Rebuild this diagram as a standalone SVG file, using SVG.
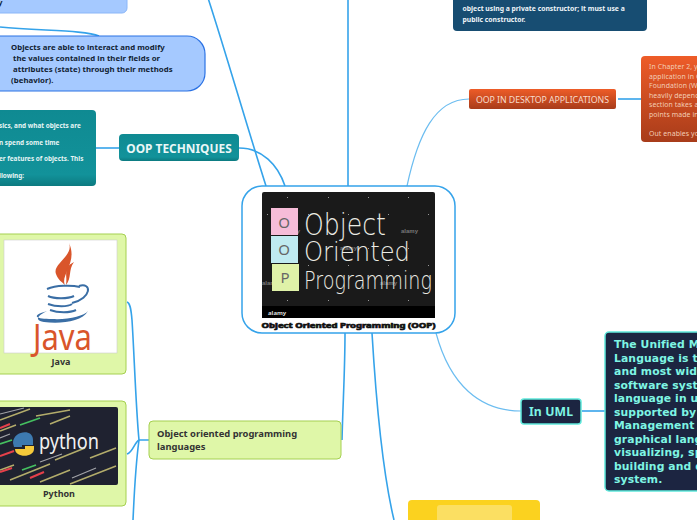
<svg xmlns="http://www.w3.org/2000/svg" width="697" height="520" viewBox="0 0 697 520">
<style>
text{font-family:"Noto Sans","Open Sans",sans-serif}
.c{fill:none;stroke:#35a3ea;stroke-width:1.6}
.t{fill:none;stroke:#6cbdf0;stroke-width:1.2}
.lb{font-size:7.8px;font-weight:700;fill:#123;letter-spacing:.05px}
.wh{font-size:6.4px;font-weight:700;fill:#e6f5f5}
.or{font-size:6.9px;fill:#f3cdb5;letter-spacing:.1px}
.um{font-size:10.8px;font-weight:700;fill:#7ff5e4;font-family:"DejaVu Sans",sans-serif;letter-spacing:.1px}
.ch{font-family:"DejaVu Sans",sans-serif;fill:#ecece4;font-weight:200}
.wm{font-size:6px;fill:#777;font-family:"Liberation Sans",sans-serif;font-weight:700}
.g{fill:#dff7a8;stroke:#a5d050;stroke-width:1}
</style>
<defs>
<linearGradient id="teal" x1="0" y1="0" x2="0" y2="1"><stop offset="0" stop-color="#0f8a92"/><stop offset=".85" stop-color="#12929a"/><stop offset="1" stop-color="#0c7a80"/></linearGradient>
<linearGradient id="org" x1="0" y1="0" x2="0" y2="1"><stop offset="0" stop-color="#ee5c28"/><stop offset="1" stop-color="#a83c1a"/></linearGradient>
</defs>
<rect width="697" height="520" fill="#fff"/>
<g id="connectors">
<path class="c" d="M208 -2C225 50 245 120 266 186"/>
<path class="c" d="M239 148C262 148 278 165 285 186"/>
<path class="c" d="M348 0V186"/>
<path class="t" d="M407 186C418 135 435 99 469 99"/>
<path class="c" d="M618 99H641"/>
<path class="c" d="M96 148H119"/>
<path class="c" d="M345 333C345 370 343 400 342 440"/>
<path class="c" d="M372 333C376 400 382 470 394 520"/>
<path class="t" d="M436 333C450 385 480 411 521 411"/>
<path class="c" d="M582 411H605"/>
<path class="c" d="M149 440H139C136 410 134 350 132 320C131 308 130 303 127 302"/>
<path class="c" d="M139 440C134 443 133 452 127 454"/>
<path class="c" d="M139 440C135 470 134 500 133 520"/>
<path class="c" d="M0 27C40 31 85 30 99 36" stroke-width="1.2"/>
</g>
<g id="node-objects-top"><path d="M-5 -5H127V8a5 5 0 0 1-5 5H-5Z" fill="#a5c9ff" stroke="#8ab6f8"/><text class="lb" x="-2" y="5">y</text></g>
<g id="node-objects"><rect x="-20" y="36" width="225" height="55" rx="18" fill="#a5c9ff" stroke="#2b72e4" stroke-width="1.2"/>
<text class="lb" x="11" y="50">Objects are able to interact and modify</text>
<text class="lb" x="13" y="61">the values contained in their fields or</text>
<text class="lb" x="13" y="72">attributes (state) through their methods</text>
<text class="lb" x="11" y="83">(behavior).</text></g>
<g id="node-techniques-detail"><rect x="-20" y="110" width="116" height="76" rx="4" fill="url(#teal)"/>
<text class="wh" x="-1" y="128">sics, and what objects are</text>
<text class="wh" x="-1" y="145">n spend some time</text>
<text class="wh" x="-1" y="161">er features of objects. This</text>
<text class="wh" x="-1" y="178">llowing:</text></g>
<g id="node-techniques"><rect x="119" y="134" width="120" height="27" rx="4" fill="url(#teal)"/>
<text x="179" y="153" text-anchor="middle" font-size="11.900" font-weight="700" fill="#eaf7f7">OOP TECHNIQUES</text></g>
<g id="node-center"><rect x="242" y="186" width="213" height="147" rx="20" fill="#fff" stroke="#35a3ea" stroke-width="1.5"/>
<rect x="262" y="192" width="173" height="126" rx="2" fill="#1a1a1a"/>
<rect x="262" y="306" width="173" height="12" fill="#000"/>
<path d="M287 197h1v1h-1zM328 197h1v1h-1zM368 197h1v1h-1zM408 197h1v1h-1zM267 214h1v1h-1zM308 214h1v1h-1zM348 214h1v1h-1zM388 214h1v1h-1zM428 214h1v1h-1zM287 248h1v1h-1zM328 248h1v1h-1zM368 248h1v1h-1zM408 248h1v1h-1zM308 265h1v1h-1zM348 265h1v1h-1zM388 265h1v1h-1zM428 265h1v1h-1zM287 300h1v1h-1zM328 300h1v1h-1zM368 300h1v1h-1zM408 300h1v1h-1z" fill="#999"/>
<text class="wm" x="283" y="233">alamy</text><text class="wm" x="340" y="250">alamy</text><text class="wm" x="401" y="233">alamy</text><text class="wm" x="262" y="285">alamy</text><text class="wm" x="380" y="285">alamy</text>
<rect x="271" y="208" width="27" height="27" fill="#f6bcd8"/><rect x="271" y="236" width="27" height="27" fill="#bfeaf0"/><rect x="272" y="264" width="27" height="27" fill="#dff2a8"/>
<text x="284" y="228" text-anchor="middle" font-size="15" fill="#666" font-family="Liberation Sans">O</text>
<text x="284" y="255" text-anchor="middle" font-size="15" fill="#666" font-family="Liberation Sans">O</text>
<text x="285" y="283" text-anchor="middle" font-size="15" fill="#666" font-family="Liberation Sans">P</text>
<text class="ch" x="304" y="235" font-size="30" textLength="82" lengthAdjust="spacingAndGlyphs">Object</text>
<text class="ch" x="304" y="261" font-size="27" textLength="106" lengthAdjust="spacingAndGlyphs">Oriented</text>
<text class="ch" x="304" y="289" font-size="24" textLength="128" lengthAdjust="spacingAndGlyphs">Programming</text>
<text x="268" y="315" font-size="6" fill="#ddd" font-family="Liberation Sans" font-weight="700">alamy</text>
<text x="348.500" y="327.500" text-anchor="middle" font-size="7.500" font-weight="700" fill="#111" stroke="#111" stroke-width=".7" font-family="DejaVu Sans" textLength="174" lengthAdjust="spacingAndGlyphs">Object Oriented Programming (OOP)</text></g>
<g id="node-constructor"><rect x="453" y="-20" width="194" height="51" rx="4" fill="#174d72"/>
<text x="462.500" y="11" font-size="6.800" font-weight="700" fill="#eef4f8">object using a private constructor; it must use a</text>
<text x="462.500" y="22" font-size="6.800" font-weight="700" fill="#eef4f8">public constructor.</text></g>
<g id="node-desktop"><rect x="469" y="89" width="147" height="20" rx="2" fill="url(#org)"/>
<text x="542.500" y="102.500" text-anchor="middle" font-size="8.800" fill="#f8dccb" textLength="133">OOP IN DESKTOP APPLICATIONS</text></g>
<g id="node-desktop-detail"><rect x="641" y="56" width="80" height="86" rx="4" fill="url(#org)"/>
<text class="or" x="649" y="69">In Chapter 2, you</text>
<text class="or" x="649" y="79">application in C#</text>
<text class="or" x="649" y="88">Foundation (WPF)</text>
<text class="or" x="649" y="98">heavily depends</text>
<text class="or" x="649" y="107">section takes a</text>
<text class="or" x="649" y="117">points made in</text>
<text class="or" x="649" y="136">Out enables you</text></g>
<g id="node-uml"><rect x="521" y="399" width="60" height="25" rx="3" fill="#1c2541" stroke="#5fe9dc" stroke-width="1.500"/>
<text x="551" y="416" text-anchor="middle" font-size="12.200" font-weight="700" fill="#7ff5e4" font-family="DejaVu Sans" textLength="44">In UML</text></g>
<g id="node-uml-detail"><rect x="605" y="332" width="110" height="159" rx="4" fill="#1c2541" stroke="#5fe9dc" stroke-width="1.500"/>
<text class="um" x="614" y="348">The Unified Modeling</text>
<text class="um" x="614" y="362">Language is the</text>
<text class="um" x="614" y="375">and most widely</text>
<text class="um" x="614" y="389">software system</text>
<text class="um" x="614" y="402">language in use</text>
<text class="um" x="614" y="416">supported by the</text>
<text class="um" x="614" y="429">Management</text>
<text class="um" x="614" y="443">graphical language</text>
<text class="um" x="614" y="456">visualizing, spec</text>
<text class="um" x="614" y="470">building and doc</text>
<text class="um" x="614" y="483">system.</text></g>
<g id="node-java"><rect class="g" x="-10" y="234" width="136" height="140" rx="4"/>
<rect x="4" y="240" width="113" height="113" fill="#fff" stroke="#ccc" stroke-width=".6"/>
<path d="M69 243C74 256 52 264 56 274C58 280 62 282 65 285C60 276 78 262 69 243Z" fill="#d9552b"/>
<path d="M74 262C62 268 68 276 66 285C72 278 68 270 74 262Z" fill="#d9552b"/>
<path d="M47 289C56 285 72 285 80 287M79 286C92 282 92 298 72 303M48 296C54 299 68 299 74 296M48 304C56 307 68 307 72 304M50 310C58 313 70 313 76 310" fill="none" stroke="#3a6ea5" stroke-width="2"/>
<path d="M47 311C30 316 36 319 52 319C68 320 84 316 88 311C82 322 60 324 44 322C38 321 33 318 47 311Z" fill="#3a6ea5"/>
<text x="33" y="350" font-size="36" fill="#d9552b" font-family="Liberation Sans" textLength="59" lengthAdjust="spacingAndGlyphs">Java</text>
<text x="61" y="365" text-anchor="middle" font-size="9" font-weight="700" fill="#333">Java</text></g>
<g id="node-python"><rect class="g" x="-10" y="401" width="136" height="105" rx="4"/>
<rect x="-5" y="407" width="123" height="78" rx="2" fill="#1f2230"/>
<path d="M0 420L30 409M36 416L70 410M0 431L16 425M0 470L14 465M10 480L50 464M40 482L70 470M55 460L85 448M70 484L116 466M90 458L116 448M50 424L70 416" stroke="#d8cf7a" stroke-width="1.500" opacity=".8" fill="none"/>
<path d="M0 428L10 424M0 456L14 451M0 472L12 468M30 478L44 472" stroke="#e6404a" stroke-width="2"/>
<path d="M0 444L12 440M20 425L40 418M22 470L36 465" stroke="#45c060" stroke-width="1.800"/>
<path d="M0 414L24 408M0 438L10 434M40 462L62 454M72 478L96 468" stroke="#e8e8e8" stroke-width="1.200" opacity=".65"/>
<path d="M13 443C13 431 33 428 33 440V445H22V447H14Z" fill="#3d7ab0"/>
<path d="M34 441V449C34 458 15 458 15 449H25V446H34Z" fill="#f5c93a"/>
<text x="39" y="449" font-size="21" fill="#f1f1f1" font-family="Noto Sans" textLength="60" lengthAdjust="spacingAndGlyphs">python</text>
<text x="59" y="497" text-anchor="middle" font-size="9" font-weight="700" fill="#333">Python</text></g>
<g id="node-languages"><rect class="g" x="149" y="421" width="192" height="38" rx="4"/>
<text x="157" y="437" font-size="9.400" font-weight="700" fill="#333">Object oriented programming</text>
<text x="157" y="450" font-size="9.400" font-weight="700" fill="#333">languages</text></g>
<g id="node-yellow"><rect x="408" y="500" width="132" height="40" rx="4" fill="#fbd21f"/><rect x="437" y="505" width="75" height="30" rx="3" fill="#fbdf62"/></g>
</svg>
